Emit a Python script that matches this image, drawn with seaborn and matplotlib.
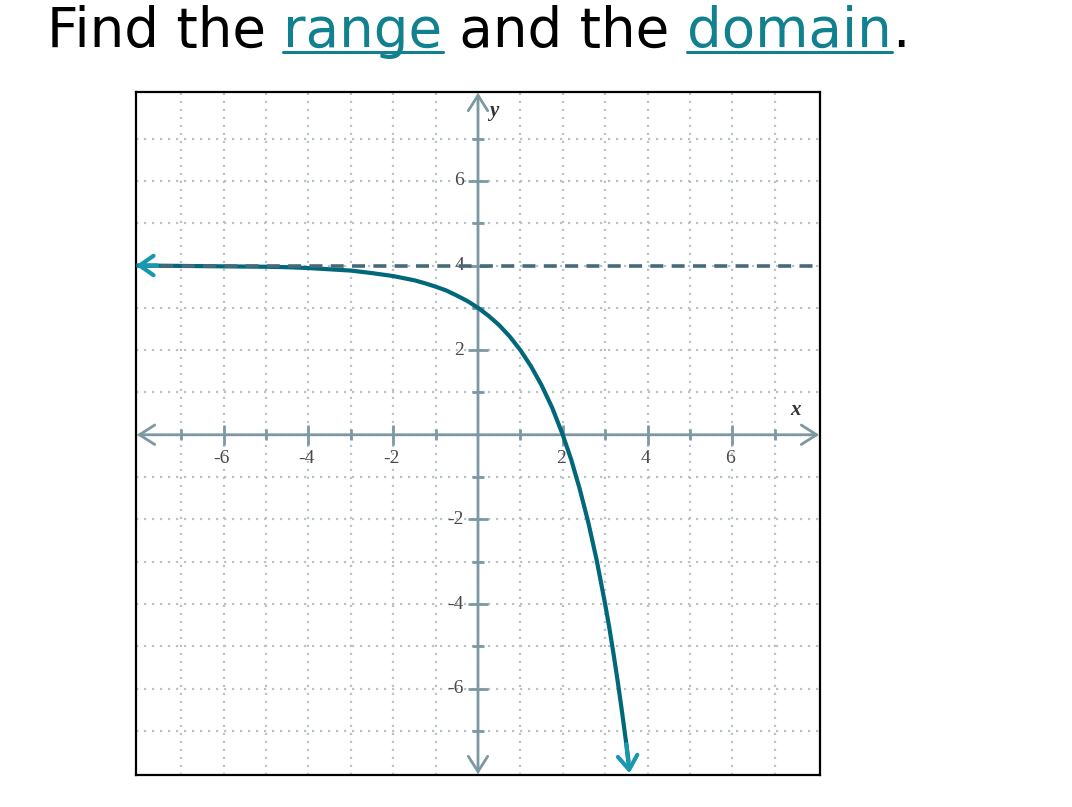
import matplotlib
matplotlib.use("Agg")
import matplotlib.pyplot as plt
import seaborn as sns
from matplotlib.lines import Line2D

# points on the curve
curve_x = [-8.07, -7, -6, -5, -4.5, -4, -3.5, -3, -2.5, -2, -1.75, -1.5, -1.25,
           -1, -0.75, -0.5, -0.25, 0, 0.25, 0.5, 0.75, 1, 1.25, 1.5, 1.75, 2,
           2.2, 2.4, 2.6, 2.8, 3, 3.1, 3.2, 3.3, 3.4, 3.5, 3.55]
curve_y = [4.0, 3.99, 3.98, 3.97, 3.96, 3.94, 3.91, 3.88, 3.82, 3.75, 3.70, 3.65,
           3.58, 3.5, 3.41, 3.29, 3.16, 3.0, 2.81, 2.59, 2.32, 2.0, 1.62, 1.17,
           0.64, 0.0, -0.59, -1.28, -2.06, -2.96, -4.0, -4.57, -5.19, -5.85,
           -6.56, -7.31, -7.71]
arrow_tip = (3.575, -8.0)
asymptote_y = 4
asymptote_x = [-8.0, 8.07]
grid_ticks = list(range(-7, 8))
labelled_ticks = [-6, -4, -2, 2, 4, 6]

# title pieces: text, colour, underlined
title_parts = ["Find the ", "range", " and the ", "domain", "."]
title_colors = ["black", "#11808f", "black", "#11808f", "black"]
title_links = [False, True, False, True, False]

AXIS_COL = "#7c98a2"
GRID_COL = "#b9c3c7"
CURVE_COL = "#00687a"
HEAD_COL = "#1898ae"
DASH_COL = "#476a78"
LABEL_COL = "#4a4a4a"
LIM = 8.07

sns.set_style("white")
W, H = 1072, 807
fig = plt.figure(figsize=(W / 100, H / 100), dpi=100)
ax = fig.add_axes([136 / W, 1 - 775 / H, 684 / W, 683 / H])
ax.set_xlim(-LIM, LIM)
ax.set_ylim(-LIM + 0.03, LIM + 0.03)

# dotted grid at every integer
ax.set_xticks(grid_ticks)
ax.set_yticks(grid_ticks)
ax.tick_params(length=0, labelbottom=False, labelleft=False)
ax.grid(True, color=GRID_COL, linestyle=(0, (1, 2.6)), linewidth=1.6)
for s in ax.spines.values():
    s.set_color("black")
    s.set_linewidth(1.6)

# axes with arrows
arrow_kw = dict(arrowstyle="<->,head_length=0.55,head_width=0.35", color=AXIS_COL,
                lw=2, shrinkA=0, shrinkB=0, mutation_scale=20)
ax.annotate("", xy=(LIM - 0.02, 0), xytext=(-LIM + 0.02, 0), arrowprops=arrow_kw, zorder=3)
ax.annotate("", xy=(0, LIM + 0.01), xytext=(0, -LIM + 0.05), arrowprops=arrow_kw, zorder=3)

# tick marks on the axes
for t in grid_ticks:
    if t == 0:
        continue
    half = 0.24 if t % 2 == 0 else 0.13
    ax.plot([t, t], [-half, half], color=AXIS_COL, lw=2, zorder=3, solid_capstyle="butt")
    ax.plot([-half, half], [t, t], color=AXIS_COL, lw=2, zorder=3, solid_capstyle="butt")

serif = ["Liberation Serif", "DejaVu Serif"]
for t in labelled_ticks:
    ax.text(t - 0.05, -0.36, str(t), ha="center", va="top", fontsize=14,
            color=LABEL_COL, family=serif, zorder=4)
    ax.text(-0.33, t, str(t), ha="right", va="center", fontsize=14,
            color=LABEL_COL, family=serif, zorder=4)
ax.text(7.5, 0.35, "x", fontsize=15, style="italic", weight="bold",
        color="#333333", family=serif, ha="center", va="bottom")
ax.text(0.38, 7.65, "y", fontsize=15, style="italic", weight="bold",
        color="#333333", family=serif, ha="center", va="center")

# curve and asymptote
sns.lineplot(x=curve_x, y=curve_y, sort=False, color=CURVE_COL, lw=3,
             ax=ax, zorder=5)
sns.lineplot(x=asymptote_x, y=[asymptote_y] * 2, color=DASH_COL, lw=2.6,
             linestyle=(0, (3.6, 2.3)), ax=ax, zorder=6)

head_kw = dict(arrowstyle="->,head_length=0.5,head_width=0.35", color=HEAD_COL,
               lw=3, shrinkA=0, shrinkB=0, mutation_scale=20)
ax.annotate("", xy=(curve_x[0], curve_y[0]), xytext=(curve_x[0] + 0.5, curve_y[0]),
            arrowprops=head_kw, zorder=7)
ax.annotate("", xy=arrow_tip, xytext=(curve_x[-2], curve_y[-2]),
            arrowprops=head_kw, zorder=7)

# title with coloured, underlined words, laid out one piece after another
renderer = fig.canvas.get_renderer()
x_px = 47
for txt, col, link in zip(title_parts, title_colors, title_links):
    t = fig.text(x_px / W, 1 - 47 / H, txt, fontsize=39.4, color=col,
                 family="DejaVu Sans", va="baseline", ha="left")
    bb = t.get_window_extent(renderer)
    if link:
        fig.add_artist(Line2D([bb.x0 / W, bb.x1 / W], [1 - 52 / H] * 2,
                              transform=fig.transFigure, color=col, lw=2.2))
    x_px += bb.width

fig.savefig("out.png", dpi=100)
